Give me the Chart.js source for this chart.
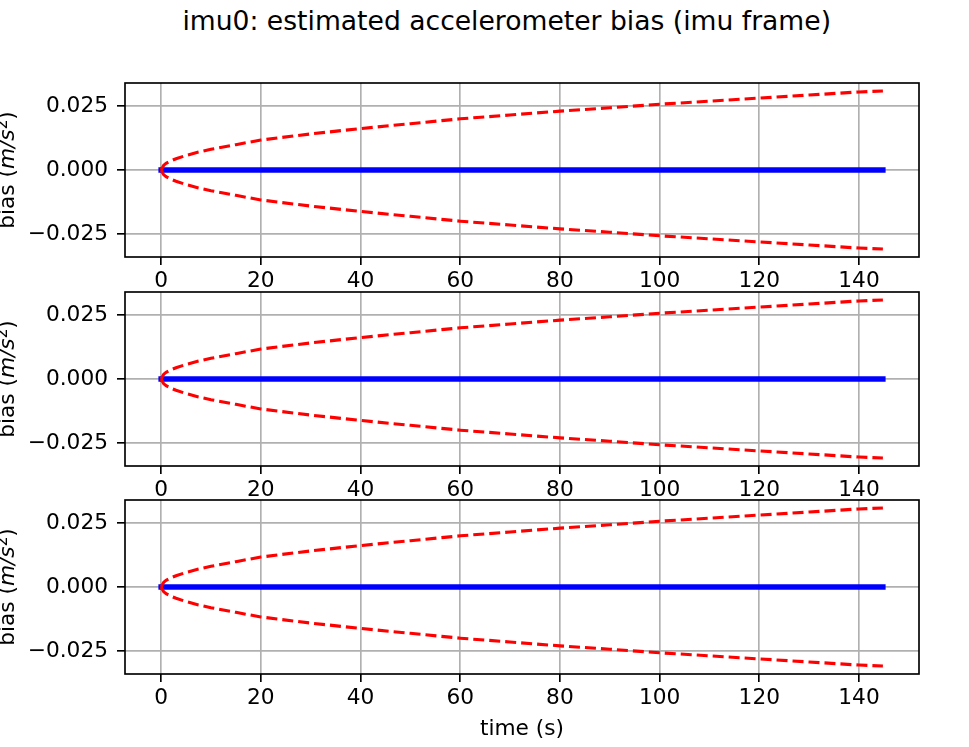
<!DOCTYPE html>
<html lang="en">
<head>
  <meta charset="UTF-8" />
  <title>imu0: estimated accelerometer bias</title>
  <script src="https://cdn.jsdelivr.net/npm/chart.js"></script>
  <style>
    body { margin: 0; background: #fff; }
    #wrap { position: relative; width: 969px; height: 747px; overflow: hidden; font-family: "DejaVu Sans", sans-serif; }
    #wrap canvas { position: absolute; left: 0; }
    .title { position: absolute; top: 4.5px; left: 0; width: 1013.4px; text-align: center; font-size: 26.6px; white-space: nowrap; }
    .xlabel { position: absolute; top: 715px; left: 0; width: 1044px; text-align: center; font-size: 21.7px; }
    .ylabel { position: absolute; width: 200px; margin-left: -100px; text-align: center; font-size: 21.7px; line-height: 24px; transform: rotate(-90deg); white-space: nowrap; }
    .ylabel .sup { font-size: 0.7em; vertical-align: 0.45em; line-height: 0; }
  </style>
</head>
<body>
<div id="wrap">
  <div class="title">imu0: estimated accelerometer bias (imu frame)</div>
  <canvas id="ax0" width="969" height="250" style="top:63px"></canvas>
  <canvas id="ax1" width="969" height="250" style="top:271.6px"></canvas>
  <canvas id="ax2" width="969" height="250" style="top:480px"></canvas>
  <div class="ylabel" style="left:6.5px; top:158px">bias (<i>m/s</i><span class="sup">2</span>)</div>
  <div class="ylabel" style="left:6.5px; top:366.6px">bias (<i>m/s</i><span class="sup">2</span>)</div>
  <div class="ylabel" style="left:6.5px; top:575px">bias (<i>m/s</i><span class="sup">2</span>)</div>
  <div class="xlabel">time (s)</div>
</div>

<script>
  // time stamps (s)
  const time = [0, 0.5, 1, 2, 3, 5, 7.5, 10, 15, 20, 30, 40, 50, 60, 70, 80, 90, 100, 110, 120, 130, 140, 144.8];
  // estimated bias per axis (flat at zero)
  const biasX = [0, 0, 0, 0, 0, 0, 0, 0, 0, 0, 0, 0, 0, 0, 0, 0, 0, 0, 0, 0, 0, 0, 0];
  const biasY = [0, 0, 0, 0, 0, 0, 0, 0, 0, 0, 0, 0, 0, 0, 0, 0, 0, 0, 0, 0, 0, 0, 0];
  const biasZ = [0, 0, 0, 0, 0, 0, 0, 0, 0, 0, 0, 0, 0, 0, 0, 0, 0, 0, 0, 0, 0, 0, 0];
  // 3-sigma bound
  const sigmaBound = [0, 0.0018, 0.0026, 0.0036, 0.0044, 0.0057, 0.0070, 0.0081, 0.0099, 0.0117, 0.0141, 0.0162,
                      0.0181, 0.0200, 0.0215, 0.0230, 0.0243, 0.0257, 0.0269, 0.0281, 0.0293, 0.0305, 0.0309];
  const xTicks = [0, 20, 40, 60, 80, 100, 120, 140];
  const yTicks = [-0.025, 0, 0.025];

  Chart.defaults.font.family = "DejaVu Sans";
  Chart.defaults.font.size = 21.7;
  Chart.defaults.color = "#000";

  // black frame round the plot area, drawn over the lines like matplotlib spines
  const spines = {
    id: "spines",
    afterDatasetsDraw(chart) {
      const a = chart.chartArea, c = chart.ctx;
      c.save();
      c.strokeStyle = "#000";
      c.lineWidth = 1.66;
      c.strokeRect(a.left, a.top, a.right - a.left, a.bottom - a.top);
      c.restore();
    }
  };

  function pts(ys, sign) {
    return time.map((t, i) => ({ x: t, y: sign * ys[i] }));
  }

  function makeAxis(id, bias) {
    return new Chart(document.getElementById(id), {
      type: "line",
      data: {
        datasets: [
          { data: pts(sigmaBound, 1), borderColor: "#ff0000", borderWidth: 3.1, borderDash: [11, 5], pointRadius: 0 },
          { data: pts(sigmaBound, -1), borderColor: "#ff0000", borderWidth: 3.1, borderDash: [11, 5], pointRadius: 0 },
          { data: pts(bias, 1), borderColor: "#0000ff", borderWidth: 5.4, borderCapStyle: "square", pointRadius: 0 }
        ]
      },
      options: {
        responsive: false,
        animation: false,
        layout: { padding: { left: 0, right: 50, top: 20, bottom: 0 } },
        plugins: { legend: { display: false }, tooltip: { enabled: false } },
        scales: {
          x: {
            type: "linear",
            min: -7.24,
            max: 152.04,
            afterBuildTicks: s => { s.ticks = xTicks.map(v => ({ value: v })); },
            afterFit: s => { s.height = 56; s.paddingLeft = 0; s.paddingRight = 0; },
            border: { display: false },
            grid: { color: "#b0b0b0", lineWidth: 1.66, tickColor: "#000", tickWidth: 1.66, tickLength: 8 },
            ticks: { padding: 3.6, maxRotation: 0, callback: v => String(v) }
          },
          y: {
            min: -0.034,
            max: 0.034,
            afterBuildTicks: s => { s.ticks = yTicks.map(v => ({ value: v })); },
            afterFit: s => { s.width = 125; s.paddingTop = 0; s.paddingBottom = 0; },
            border: { display: false },
            grid: { color: "#b0b0b0", lineWidth: 1.66, tickColor: "#000", tickWidth: 1.66, tickLength: 8 },
            ticks: { padding: 9, callback: v => v.toFixed(3).replace("-", "\u2212") }
          }
        }
      },
      plugins: [spines]
    });
  }

  makeAxis("ax0", biasX);
  makeAxis("ax1", biasY);
  makeAxis("ax2", biasZ);
</script>
</body>
</html>
